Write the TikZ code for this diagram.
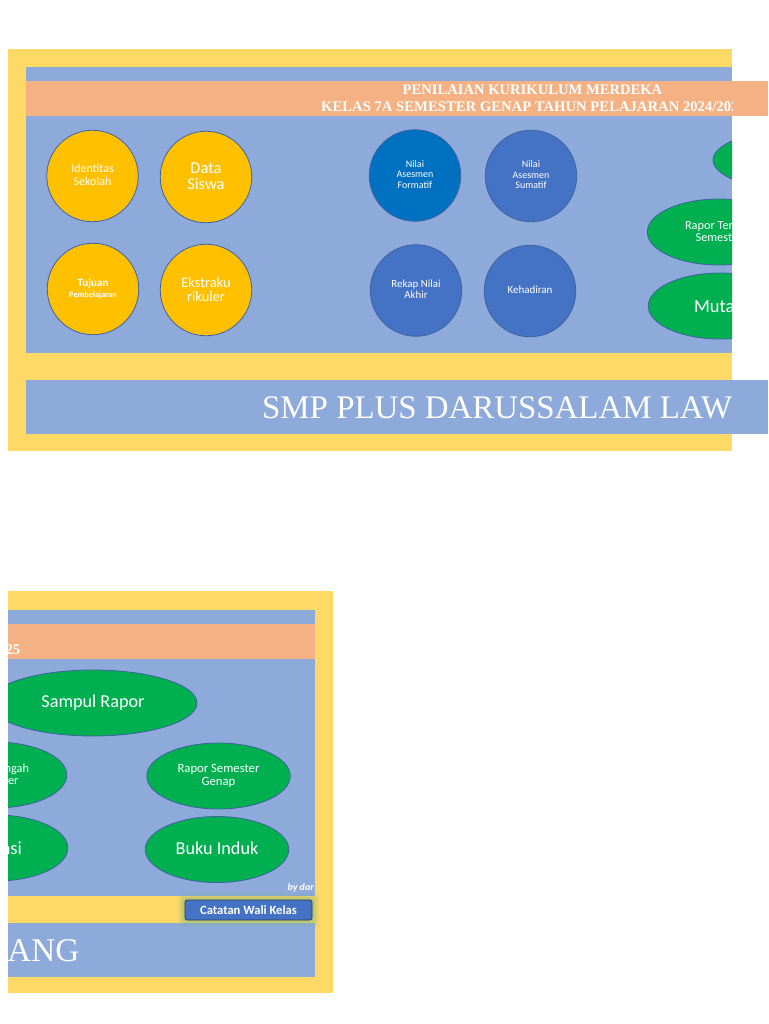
\documentclass[tikz,border=0pt]{standalone}
\usepackage{fontspec}
\setmainfont{Liberation Serif}
\newfontfamily\calib{Carlito}
\usetikzlibrary{shapes.geometric}
\definecolor{frameY}{HTML}{FFD966}
\definecolor{panelB}{HTML}{8EAADB}
\definecolor{bandO}{HTML}{F4B183}
\definecolor{amberF}{HTML}{FFC000}
\definecolor{deepB}{HTML}{0070C0}
\definecolor{midB}{HTML}{4472C4}
\definecolor{greenF}{HTML}{00B050}
\definecolor{edgeB}{HTML}{3F62A0}
\newcommand{\lsz}[2]{\fontsize{#1}{#2}\selectfont}
\tikzset{
  x=1pt,y=-1pt,
  sized/.style 2 args={font=\calib\lsz{#1}{#2}},
  bub/.style={circle,draw=edgeB,line width=0.8pt,minimum size=91.5pt,inner sep=0pt,align=center,text=white,text depth=2pt},
  amberbub/.style={bub,fill=amberF},
  deepbub/.style={bub,fill=deepB},
  midbub/.style={bub,fill=midB},
  ovalbub/.style={ellipse,draw=edgeB,line width=0.8pt,fill=greenF,inner sep=0pt,align=center,text=white},
  wideoval/.style={ovalbub,minimum width=143.5pt,minimum height=66pt},
  titleline/.style={text=white,font=\bfseries\lsz{14.6}{15},inner sep=0pt},
  titleband/.style={text=white,font=\bfseries\lsz{14.68}{15},inner sep=0pt},
  bigtitle/.style={text=white,font=\lsz{32.9}{34},inner sep=0pt},
}
\begin{document}
\begin{tikzpicture}
\useasboundingbox (0,0) rectangle (768,1024);
\fill[white] (0,0) rectangle (768,1024);
% ---------- first sheet ----------
\fill[frameY] (8,49) rectangle (732,451);
\fill[panelB] (26,67) rectangle (732,353);
\fill[bandO] (26,81) rectangle (768,116);
\fill[panelB] (26,380) rectangle (768,433.5);
\node[titleline] (t1a) at (532.5,89.5) {PENILAIAN KURIKULUM MERDEKA};
\begin{scope}
\clip (8,49) rectangle (732,451);
\node[titleband,anchor=west] (t2a) at (321,106.5) {KELAS 7A SEMESTER GENAP TAHUN PELAJARAN 2024/202};
\node[wideoval,minimum width=208pt] (sampulA) at (817,160) {};
\node[wideoval,sized={12.3}{12},text depth=2pt] (tengahA) at (719,232) {Rapor Tengah\\Semester};
\node[wideoval,sized={18.5}{19}] (mutasiA) at (720,306) {Mutasi};
\end{scope}
\node[bigtitle,anchor=west] (t3a) at (262,407.5) {SMP PLUS DARUSSALAM LAW};
\node[amberbub,sized={12}{13}] (ident) at (92.5,176) {Identitas\\Sekolah};
\node[amberbub,sized={16.5}{16}] (siswa) at (206,177) {Data\\Siswa};
\node[amberbub,sized={11}{10.5}] (tujuan) at (93,289) {\textbf{Tujuan}\\{\lsz{8.3}{8}\textbf{Pembelajaran}}};
\node[amberbub,sized={14.4}{14}] (ekstra) at (206,290) {Ekstraku\\rikuler};
\node[deepbub,sized={10}{10.5}] (formatif) at (415,175.5) {Nilai\\Asesmen\\Formatif};
\node[midbub,sized={10}{10.5}] (sumatif) at (531,176) {Nilai\\Asesmen\\Sumatif};
\node[midbub,sized={10.9}{11}] (rekap) at (416,290.5) {Rekap Nilai\\Akhir};
\node[midbub,sized={11}{11}] (hadir) at (530,291) {Kehadiran};
% ---------- second sheet ----------
\fill[frameY] (8,591) rectangle (333,993);
\fill[panelB] (8,610) rectangle (315,896);
\fill[bandO] (8,624) rectangle (315,659);
\fill[panelB] (8,923) rectangle (315,977);
\begin{scope}
\clip (8,591) rectangle (333,993);
\node[titleband,anchor=east] (t2b) at (20.5,649.5) {25};
\node[bigtitle,font=\lsz{33.2}{34},anchor=east] (t3b) at (79.5,950.5) {ANG};
\node[wideoval,minimum width=208pt,sized={18.2}{19}] (sampulB) at (93,703) {Sampul Rapor};
\node[wideoval,sized={12.3}{12},text depth=2pt] (tengahB) at (-5,775) {Rapor Tengah\\Semester};
\node[wideoval,sized={18.5}{19}] (mutasiB) at (-4,848) {Mutasi};
\end{scope}
\node[wideoval,sized={12.7}{13}] (genap) at (218.5,776) {Rapor Semester\\Genap};
\node[wideoval,sized={18.2}{19},text depth=2pt] (induk) at (217,849.5) {Buku Induk};
\node[anchor=east,text=white,inner sep=0pt,font=\calib\bfseries\itshape\lsz{10}{10}] (bydar) at (314,887.5) {by dar};
% glow of the button
\foreach \g/\o in {7/0.10,5/0.14,3/0.18,1.5/0.22}{
  \fill[midB!70!green!70!frameY,opacity=\o,rounded corners=3pt] (185-\g,900-\g) rectangle (312+\g,920+\g);
}
\node[draw=edgeB!60!black,line width=0.8pt,fill=midB,rounded corners=2.5pt,minimum width=127pt,minimum height=20pt,inner sep=0pt,text=white,font=\calib\bfseries\lsz{12.6}{13}] (catatan) at (248.5,910) {Catatan Wali Kelas};
\end{tikzpicture}
\end{document}
